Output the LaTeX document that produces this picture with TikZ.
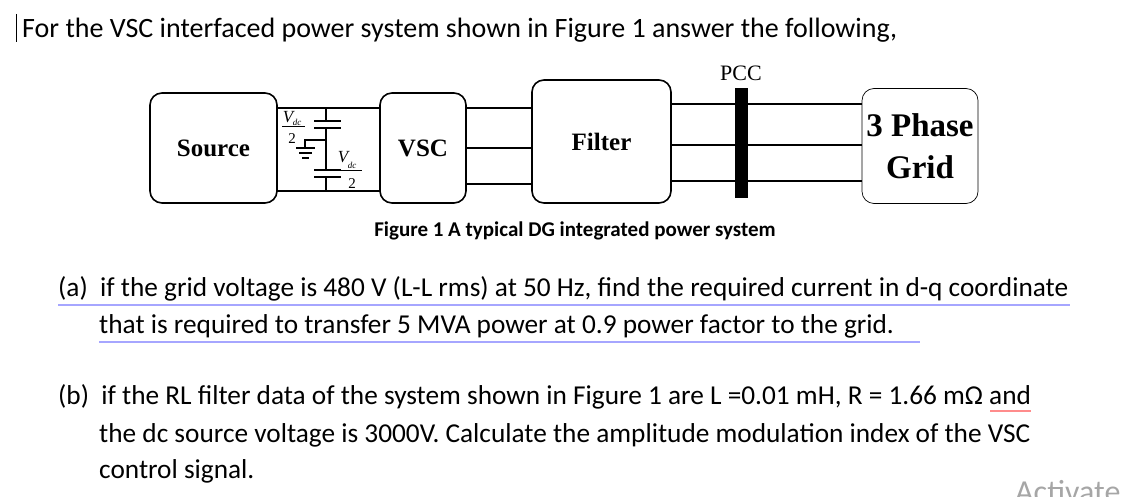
\documentclass[tikz,border=0pt]{standalone}
\usepackage{fontspec}
\setmainfont{Carlito}
\newfontfamily\tnr{Liberation Serif}
\begin{document}
\begin{tikzpicture}[x=1pt,y=-1pt,
  blk/.style={draw,line width=1.6pt,rounded corners=12pt},
  w/.style={line width=1.4pt},
  lab/.style={font=\tnr\bfseries\fontsize{25}{26}\selectfont},
  txt/.style={anchor=west,font=\fontsize{27.3}{29}\selectfont,inner sep=0pt}]
\useasboundingbox (0,0) rectangle (1129,497);
\clip (0,0) rectangle (1129,497);
\draw[line width=0.8pt] (16,14) -- (16,42);
\node[txt,font=\fontsize{28}{29}\selectfont] (t0) at (22,30) {For the VSC interfaced power system shown in Figure 1 answer the following,};
% blocks
\node[blk,minimum width=127pt,minimum height=110pt,lab] (src) at (213.5,148) {Source};
\node[blk,minimum width=86pt,minimum height=110pt,lab] (vsc) at (423,148) {VSC};
\node[blk,minimum width=139pt,minimum height=123pt,lab] (flt) at (601.5,141.5) {Filter};
\node[draw,line width=0.7pt,rounded corners=12pt,minimum width=116pt,minimum height=115pt,align=center,font=\tnr\bfseries\fontsize{33}{42}\selectfont,inner sep=0pt] (grid) at (920,146) {3 Phase\\Grid};
% dc link
\draw[w] (277,108) -- (380,108);
\draw[w] (277,191) -- (380,191);
\draw[w] (326,108) -- (326,121) (314,121) -- (341,121) (314,128) -- (341,128) (326,128) -- (326,170)
  (314,170) -- (341,170) (314,177) -- (341,177) (326,177) -- (326,191);
\draw[w] (326,140) -- (305,140) -- (305,148) (296,148) -- (315,148) (299,153) -- (312,153) (302,158) -- (309,158);
\node[font=\tnr\itshape\fontsize{17}{17}\selectfont,inner sep=0pt] (v1) at (288,117) {V};
\node[font=\tnr\itshape\fontsize{9}{9}\selectfont,inner sep=0pt] (d1) at (297,122) {dc};
\draw[line width=0.5pt] (282,126) -- (305,126);
\node[font=\tnr\fontsize{15}{15}\selectfont,inner sep=0pt] (n1) at (292,139) {2};
\node[font=\tnr\itshape\fontsize{17}{17}\selectfont,inner sep=0pt] (v2) at (343,157) {V};
\node[font=\tnr\itshape\fontsize{9}{9}\selectfont,inner sep=0pt] (d2) at (352,165) {dc};
\draw[line width=0.5pt] (341,170) -- (362,170);
\node[font=\tnr\fontsize{15}{15}\selectfont,inner sep=0pt] (n2) at (352,184) {2};
% VSC to filter
\foreach \y in {108,148,184} \draw[w] (466,\y) -- (532,\y);
\foreach \y in {104,145,181} \draw[w] (671,\y) -- (862,\y);
\fill (735,88) rectangle (748,198);
\node[font=\tnr\fontsize{22}{22}\selectfont] (pcc) at (741,73) {PCC};
\node[font=\bfseries\fontsize{21}{22}\selectfont] (cap) at (575,231) {Figure 1 A typical DG integrated power system};
% questions
\node[txt] (a1) at (58,289) {(a)\ \ if the grid voltage is 480 V (L-L rms) at 50 Hz, find the required current in d-q coordinate};
\node[txt] (a2) at (99,326) {that is required to transfer 5 MVA power at 0.9 power factor to the grid.};
\draw[color=blue!35,line width=2pt] (58,305) -- (1070,305);
\draw[color=blue!35,line width=2pt] (99,342) -- (920,342);
\node[txt] (b1) at (58,397) {(b)\ \ if the RL filter data of the system shown in Figure 1 are L =0.01 mH, R = 1.66 mΩ and};
\node[txt] (b2) at (99,435) {the dc source voltage is 3000V. Calculate the amplitude modulation index of the VSC};
\node[txt] (b3) at (99,471) {control signal.};
\draw[color=red!45,line width=2pt] (990,411) -- (1031,411);
\node[txt,text=gray!70,font=\fontsize{32}{32}\selectfont] (act) at (1015,492) {Activate};
\end{tikzpicture}
\end{document}
